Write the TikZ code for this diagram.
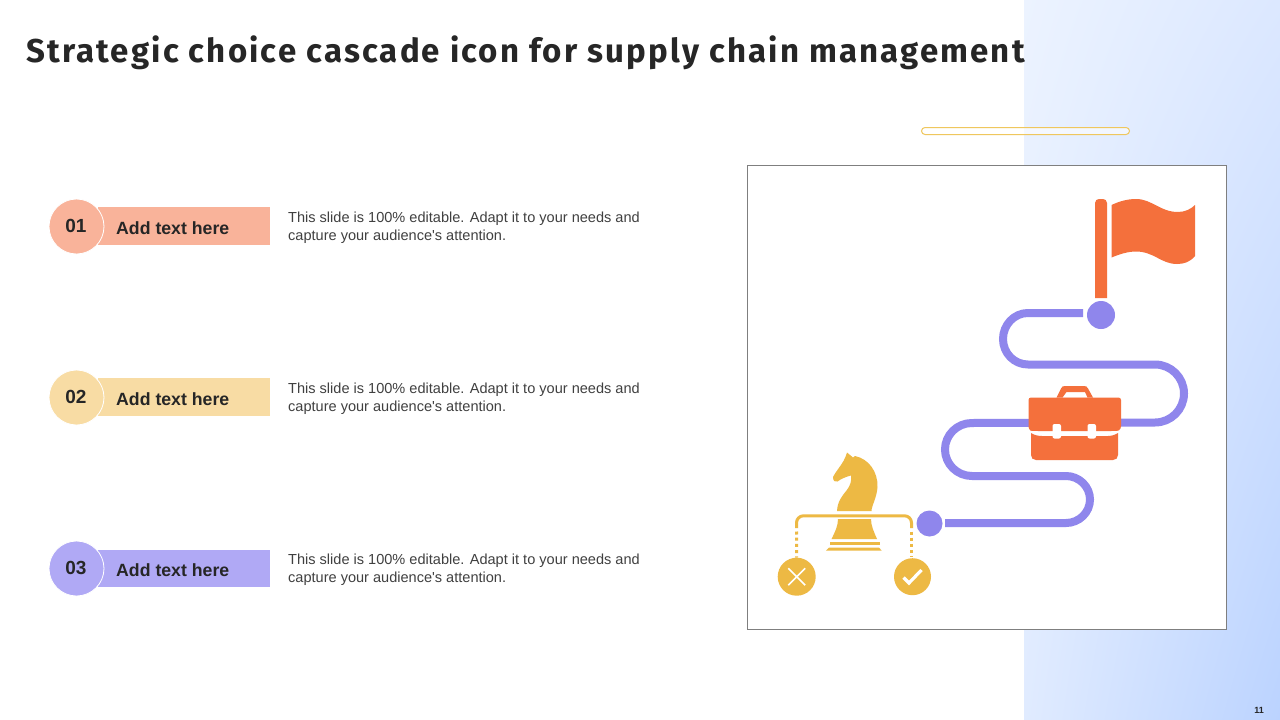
\documentclass[tikz,border=0pt]{standalone}
\usepackage{fontspec}
\usetikzlibrary{shadings}
\setmainfont{Liberation Sans}
\newfontfamily\titlefont[LetterSpace=6.55]{Fira Sans}
\newfontfamily\labelfont{Liberation Sans}
\newfontfamily\bodyfont{Liberation Sans}
\definecolor{ink}{HTML}{262626}
\definecolor{bodyink}{HTML}{404040}
\definecolor{peach}{HTML}{F9B39A}
\definecolor{sand}{HTML}{F8DCA4}
\definecolor{lilac}{HTML}{B0A9F5}
\definecolor{orangeicon}{HTML}{F4703C}
\definecolor{goldicon}{HTML}{EDB944}
\definecolor{pathblue}{HTML}{8F86EC}
\definecolor{framegray}{HTML}{7F7F7F}
\definecolor{pillgold}{HTML}{EFC75E}
\definecolor{bgul}{RGB}{236,243,255}
\definecolor{bgur}{RGB}{220,232,255}
\definecolor{bgll}{RGB}{224,235,255}
\definecolor{bglr}{RGB}{187,211,255}
\tikzset{
  x=1pt,y=-1pt,
  barbox/.style={minimum width=172pt,minimum height=38pt,inner sep=0pt,anchor=west},
  numdisc/.style={circle,minimum size=55pt,inner sep=0pt,draw=white,line width=0.8pt},
  numtext/.style={font=\fontsize{19}{19}\selectfont\bfseries,text=ink},
  bartext/.style={font=\labelfont\fontsize{17.7}{18}\selectfont\bfseries,text=ink,anchor=west,inner sep=0pt},
  bodytext/.style={font=\bodyfont\fontsize{14.55}{18}\selectfont,text=bodyink,anchor=north west,align=left,inner sep=0pt},
  track/.style={draw=pathblue,line width=8pt},
  dotnode/.style={circle,fill=pathblue,inner sep=0pt},
  golddisc/.style={circle,fill=goldicon,inner sep=0pt},
}
\begin{document}
\begin{tikzpicture}
\useasboundingbox (0,0) rectangle (1280,720);
\fill[white] (0,0) rectangle (1280,720);
\shade[upper left=bgul,upper right=bgur,lower left=bgll,lower right=bglr] (1024,0) rectangle (1280,720);
\node[font=\titlefont\fontsize{33}{33}\selectfont\bfseries,text=ink,anchor=base west,inner sep=0pt] (title) at (26,62) {Strategic choice cascade icon for supply chain management};
\draw[pillgold,line width=1pt,fill=white,fill opacity=.55,rounded corners=3.5pt] (921.5,127.5) rectangle (1129.5,134.5);
\draw[framegray,line width=.8pt,fill=white] (747.5,165.5) rectangle (1226.5,629.5);
% rows
\node[barbox,fill=peach] (bar1) at (98,226) {};
\node[numdisc,fill=peach] (disc1) at (76.5,226.5) {};
\node[numtext] (num1) at (76,226) {01};
\node[bartext] (lab1) at (116,228) {Add text here};
\node[bodytext] (txt1) at (288,212) {This slide is 100\% editable. Adapt it to your needs and\\capture your audience's attention.};
\node[barbox,fill=sand] (bar2) at (98,397) {};
\node[numdisc,fill=sand] (disc2) at (76.5,397.5) {};
\node[numtext] (num2) at (76,397) {02};
\node[bartext] (lab2) at (116,399) {Add text here};
\node[bodytext] (txt2) at (288,383) {This slide is 100\% editable. Adapt it to your needs and\\capture your audience's attention.};
\node[barbox,fill=lilac,minimum height=37pt] (bar3) at (98,568.5) {};
\node[numdisc,fill=lilac] (disc3) at (76.5,568.5) {};
\node[numtext] (num3) at (76,568) {03};
\node[bartext] (lab3) at (116,570) {Add text here};
\node[bodytext] (txt3) at (288,554) {This slide is 100\% editable. Adapt it to your needs and\\capture your audience's attention.};
\node[font=\fontsize{9}{9}\selectfont\bfseries,text=ink] (page) at (1259,710) {11};
% winding track
\coordinate (trackstart) at (945,523);
\coordinate (trackend) at (1083,313);
\draw[track] (trackstart) -- (1066,523)
  .. controls (1079,523) and (1090,512.5) .. (1090,499.5)
  .. controls (1090,486.5) and (1079,476) .. (1066,476)
  -- (972,476)
  .. controls (957,476) and (945,464) .. (945,449.5)
  .. controls (945,435) and (957,423) .. (972,423)
  -- (1155,422.5)
  .. controls (1171,422.5) and (1184,409.5) .. (1184,393.5)
  .. controls (1184,377.5) and (1171,364.5) .. (1155,364.5)
  -- (1028,364.5)
  .. controls (1014,364.5) and (1003,353) .. (1003,339)
  .. controls (1003,325) and (1014,313) .. (1028,313)
  -- (trackend);
\node[dotnode,minimum size=28pt] (dotflag) at (1101,315) {};
\node[dotnode,minimum size=26pt] (dotknight) at (929.5,523.5) {};
% flag
\fill[orangeicon] (1095,298) -- (1095,203) .. controls (1095,200.5) and (1097,199) .. (1099,199) -- (1103,199) .. controls (1105,199) and (1107,200.5) .. (1107,203) -- (1107,298) -- cycle;
\fill[orangeicon] (1111.5,205) .. controls (1120,201) and (1128,199) .. (1136,199)
  .. controls (1152,199) and (1160,212) .. (1178,212)
  .. controls (1185,212) and (1191,209) .. (1195,205)
  -- (1195,256)
  .. controls (1190,262) and (1184,264) .. (1177,264)
  .. controls (1161,264) and (1154,251.5) .. (1136,251.5)
  .. controls (1128,251.5) and (1120,254) .. (1111.5,257.5) -- cycle;
% briefcase
\fill[orangeicon,even odd rule] (1056.5,397.5) -- (1061,388.5) .. controls (1062,386.5) and (1063,386) .. (1065,386) -- (1084,386) .. controls (1086,386) and (1087,386.5) .. (1088,388.5) -- (1093,397.5) -- cycle
 (1062.5,397.5) -- (1066.5,392) -- (1085,392) -- (1087.5,397.5) -- cycle;
\fill[orangeicon,rounded corners=2.5pt] (1028.5,429) -- (1028.5,397.5) -- (1121,397.5) -- (1121,429) .. controls (1118,431) and (1112,431) .. (1108,431) -- (1042,431) .. controls (1037,431) and (1031,431) .. (1028.5,429) -- cycle;
\fill[orangeicon] (1031,433) .. controls (1034,435) and (1038,436) .. (1042,436) -- (1108,436) .. controls (1111,436) and (1115,435) .. (1118,433) -- (1118,455) .. controls (1118,458) and (1116,460) .. (1113,460) -- (1036,460) .. controls (1033,460) and (1031,458) .. (1031,455) -- cycle;
\fill[white,rounded corners=2pt] (1052.5,424) rectangle (1061,438.5);
\fill[white,rounded corners=2pt] (1087.5,424) rectangle (1096,438.5);
% knight
\fill[goldicon] (837,511) -- (871.5,511) .. controls (871.5,506) and (877,497) .. (877.5,487)
  .. controls (878,472) and (869,459) .. (855,456) -- (853,457.5) -- (847,452.5)
  .. controls (846,455) and (845.5,458) .. (843.5,461)
  .. controls (840,467) and (835.5,472) .. (833,477)
  .. controls (833,481) and (835,482.5) .. (837.5,481.5)
  .. controls (841,479) and (845,477) .. (851,475.5)
  .. controls (852,481) and (850,486) .. (846.5,490.5)
  .. controls (841.5,496.5) and (837.5,502) .. (837,511) -- cycle;
\fill[goldicon] (838,519) -- (871,519) .. controls (871,526) and (874,532) .. (877,539) -- (831.5,539) .. controls (835,532) and (838,526) .. (838,519) -- cycle;
\fill[goldicon] (829.5,541.5) rectangle (879.5,544.5);
\fill[goldicon] (829,547.5) -- (879,547.5) -- (881.5,550.5) -- (826,550.5) -- cycle;
% decision bracket
\node[golddisc,minimum size=38pt] (nope) at (796.7,576.7) {};
\node[golddisc,minimum size=37pt] (okay) at (912.5,576.7) {};
\draw[goldicon,line width=3pt,rounded corners=7pt] (796.5,528) -- (796.5,515.8) -- (911.5,515.8) -- (911.5,528);
\draw[goldicon,line width=3pt,dash pattern=on 3pt off 3.2pt] (796.5,531.5) -- (nope.north);
\draw[goldicon,line width=3pt,dash pattern=on 3pt off 3.2pt] (911.5,531.5) -- (911.5,557);
\draw[white,line width=1.6pt] (788.3,568.3) -- (805.2,585.2) (805.2,568.3) -- (788.3,585.2);
\draw[white,line width=3.2pt] (903.5,577.5) -- (909,583) -- (921.5,570);
\end{tikzpicture}
\end{document}
